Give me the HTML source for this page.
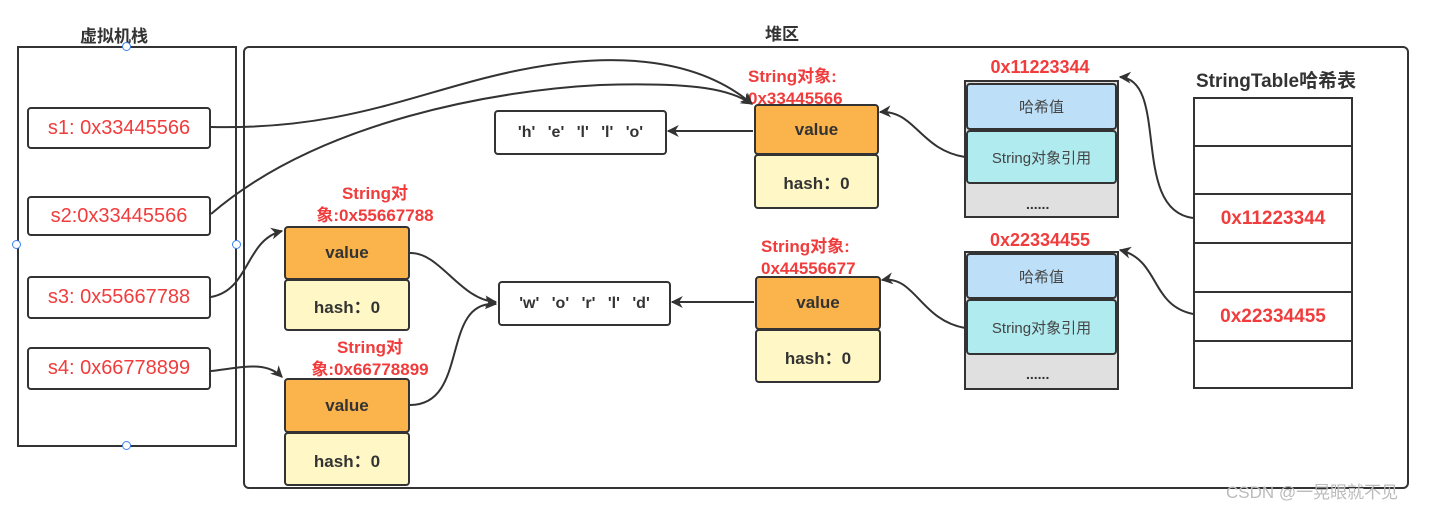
<!DOCTYPE html>
<html><head><meta charset="utf-8"><style>
*{margin:0;padding:0;box-sizing:border-box}
body{width:1431px;height:509px;background:#fff;position:relative;overflow:hidden;font-family:"Liberation Sans","Noto Sans CJK SC",sans-serif}
.a{position:absolute}
.b{position:absolute;border:2px solid #333;border-radius:4px;display:flex;align-items:center;justify-content:center}
.s{color:#f03c3c;font-size:20px;background:#fff}
.val{background:#fbb44c;font-weight:bold;font-size:17px;color:#333}
.hash{background:#fff8c6;font-weight:bold;font-size:17px;color:#333}
.lbl{position:absolute;color:#f03c3c;font-weight:bold;font-size:17px;line-height:22px;text-align:center}
.t{position:absolute;font-weight:bold;font-size:17px;color:#333}
.chars{background:#fff;font-size:16px;font-weight:bold;color:#333;word-spacing:8px}
.blue{background:#bddff8;font-size:15px;color:#444}
.cyan{background:#b0ebf0;font-size:15px;color:#444}
.row{position:absolute;left:1193px;width:160px;border:2px solid #333;background:#fff;display:flex;align-items:center;justify-content:center;color:#f03c3c;font-weight:bold;font-size:19px}
.h{position:absolute;width:9px;height:9px;border:1px solid #3b82f6;border-radius:50%;background:#fff}
</style></head><body>
<div class="t" style="left:80px;top:22px">虚拟机栈</div>
<div class="a" style="left:17px;top:46px;width:220px;height:401px;border:2px solid #333"></div>
<div class="t" style="left:765px;top:20px">堆区</div>
<div class="a" style="left:243px;top:46px;width:1166px;height:443px;border:2px solid #333;border-radius:6px"></div>

<div class="b s" style="left:27px;top:107px;width:184px;height:42px">s1: 0x33445566</div>
<div class="b s" style="left:27px;top:196px;width:184px;height:40px">s2:0x33445566</div>
<div class="b s" style="left:27px;top:276px;width:184px;height:43px">s3: 0x55667788</div>
<div class="b s" style="left:27px;top:347px;width:184px;height:43px">s4: 0x66778899</div>

<div class="b chars" style="left:494px;top:110px;width:173px;height:45px">'h' 'e' 'l' 'l' 'o'</div>
<div class="b chars" style="left:498px;top:281px;width:173px;height:45px">'w' 'o' 'r' 'l' 'd'</div>

<div class="lbl" style="left:748px;top:66px;text-align:left">String对象:<br>0x33445566</div>
<div class="b val" style="left:754px;top:104px;width:125px;height:51px">value</div>
<div class="b hash" style="left:754px;top:154px;width:125px;height:55px">hash：0</div>

<div class="lbl" style="left:761px;top:236px;text-align:left">String对象:<br>0x44556677</div>
<div class="b val" style="left:755px;top:276px;width:126px;height:54px">value</div>
<div class="b hash" style="left:755px;top:329px;width:126px;height:54px">hash：0</div>

<div class="lbl" style="left:300px;top:183px;width:150px">String对<br>象:0x55667788</div>
<div class="b val" style="left:284px;top:226px;width:126px;height:54px">value</div>
<div class="b hash" style="left:284px;top:279px;width:126px;height:52px">hash：0</div>

<div class="lbl" style="left:295px;top:337px;width:150px">String对<br>象:0x66778899</div>
<div class="b val" style="left:284px;top:378px;width:126px;height:55px">value</div>
<div class="b hash" style="left:284px;top:432px;width:126px;height:54px">hash：0</div>

<div class="lbl" style="left:960px;top:56px;width:160px;font-size:18px">0x11223344</div>
<div class="a" style="left:964px;top:80px;width:155px;height:138px;border:2px solid #333;background:#e0e0e0"></div>
<div class="b blue" style="left:966px;top:83px;width:151px;height:47px">哈希值</div>
<div class="b cyan" style="left:966px;top:130px;width:151px;height:54px">String对象引用</div>
<div class="a" style="left:1026px;top:196px;font-size:14px;font-weight:bold;color:#333">......</div>

<div class="lbl" style="left:960px;top:229px;width:160px;font-size:18px">0x22334455</div>
<div class="a" style="left:964px;top:251px;width:155px;height:139px;border:2px solid #333;background:#e0e0e0"></div>
<div class="b blue" style="left:966px;top:253px;width:151px;height:46px">哈希值</div>
<div class="b cyan" style="left:966px;top:299px;width:151px;height:56px">String对象引用</div>
<div class="a" style="left:1026px;top:366px;font-size:14px;font-weight:bold;color:#333">......</div>

<div class="t" style="left:1196px;top:66px;font-size:19px">StringTable哈希表</div>
<div class="row" style="top:97px;height:50px"></div>
<div class="row" style="top:145px;height:50px"></div>
<div class="row" style="top:193px;height:51px">0x11223344</div>
<div class="row" style="top:242px;height:51px"></div>
<div class="row" style="top:291px;height:51px">0x22334455</div>
<div class="row" style="top:340px;height:49px"></div>

<svg class="a" style="left:0;top:0" width="1431" height="509">
<defs><marker id="m" viewBox="0 0 10 10" refX="9" refY="5" markerWidth="6" markerHeight="6" markerUnits="strokeWidth" orient="auto-start-reverse"><path d="M0,0 L10,5 L0,10 L3,5 z" fill="#333"/></marker></defs>
<g fill="none" stroke="#333" stroke-width="2" marker-end="url(#m)">
<path d="M211,127 C350,130 420,90 520,70 C620,50 700,60 752,104"/>
<path d="M211,214 C320,120 500,90 600,85 C700,82 730,90 752,104"/>
<path d="M211,297 C250,290 245,240 282,231"/>
<path d="M211,371 C240,368 265,360 282,377"/>
<path d="M410,253 C440,252 460,300 496,302"/>
<path d="M410,405 C470,405 440,300 496,304"/>
<path d="M753,131 L668,131"/>
<path d="M754,302 L672,302"/>
<path d="M965,157 C920,150 915,110 880,112"/>
<path d="M965,328 C920,320 915,275 882,280"/>
<path d="M1193,218 C1130,210 1170,80 1120,77"/>
<path d="M1193,314 C1150,305 1160,260 1120,250"/>
</g>
</svg>
<div class="h" style="left:122px;top:42px"></div>
<div class="h" style="left:12px;top:240px"></div>
<div class="h" style="left:232px;top:240px"></div>
<div class="h" style="left:122px;top:441px"></div>
<div class="a" style="left:1226px;top:478px;font-size:17px;color:#bbb">CSDN @一晃眼就不见</div>
</body></html>
